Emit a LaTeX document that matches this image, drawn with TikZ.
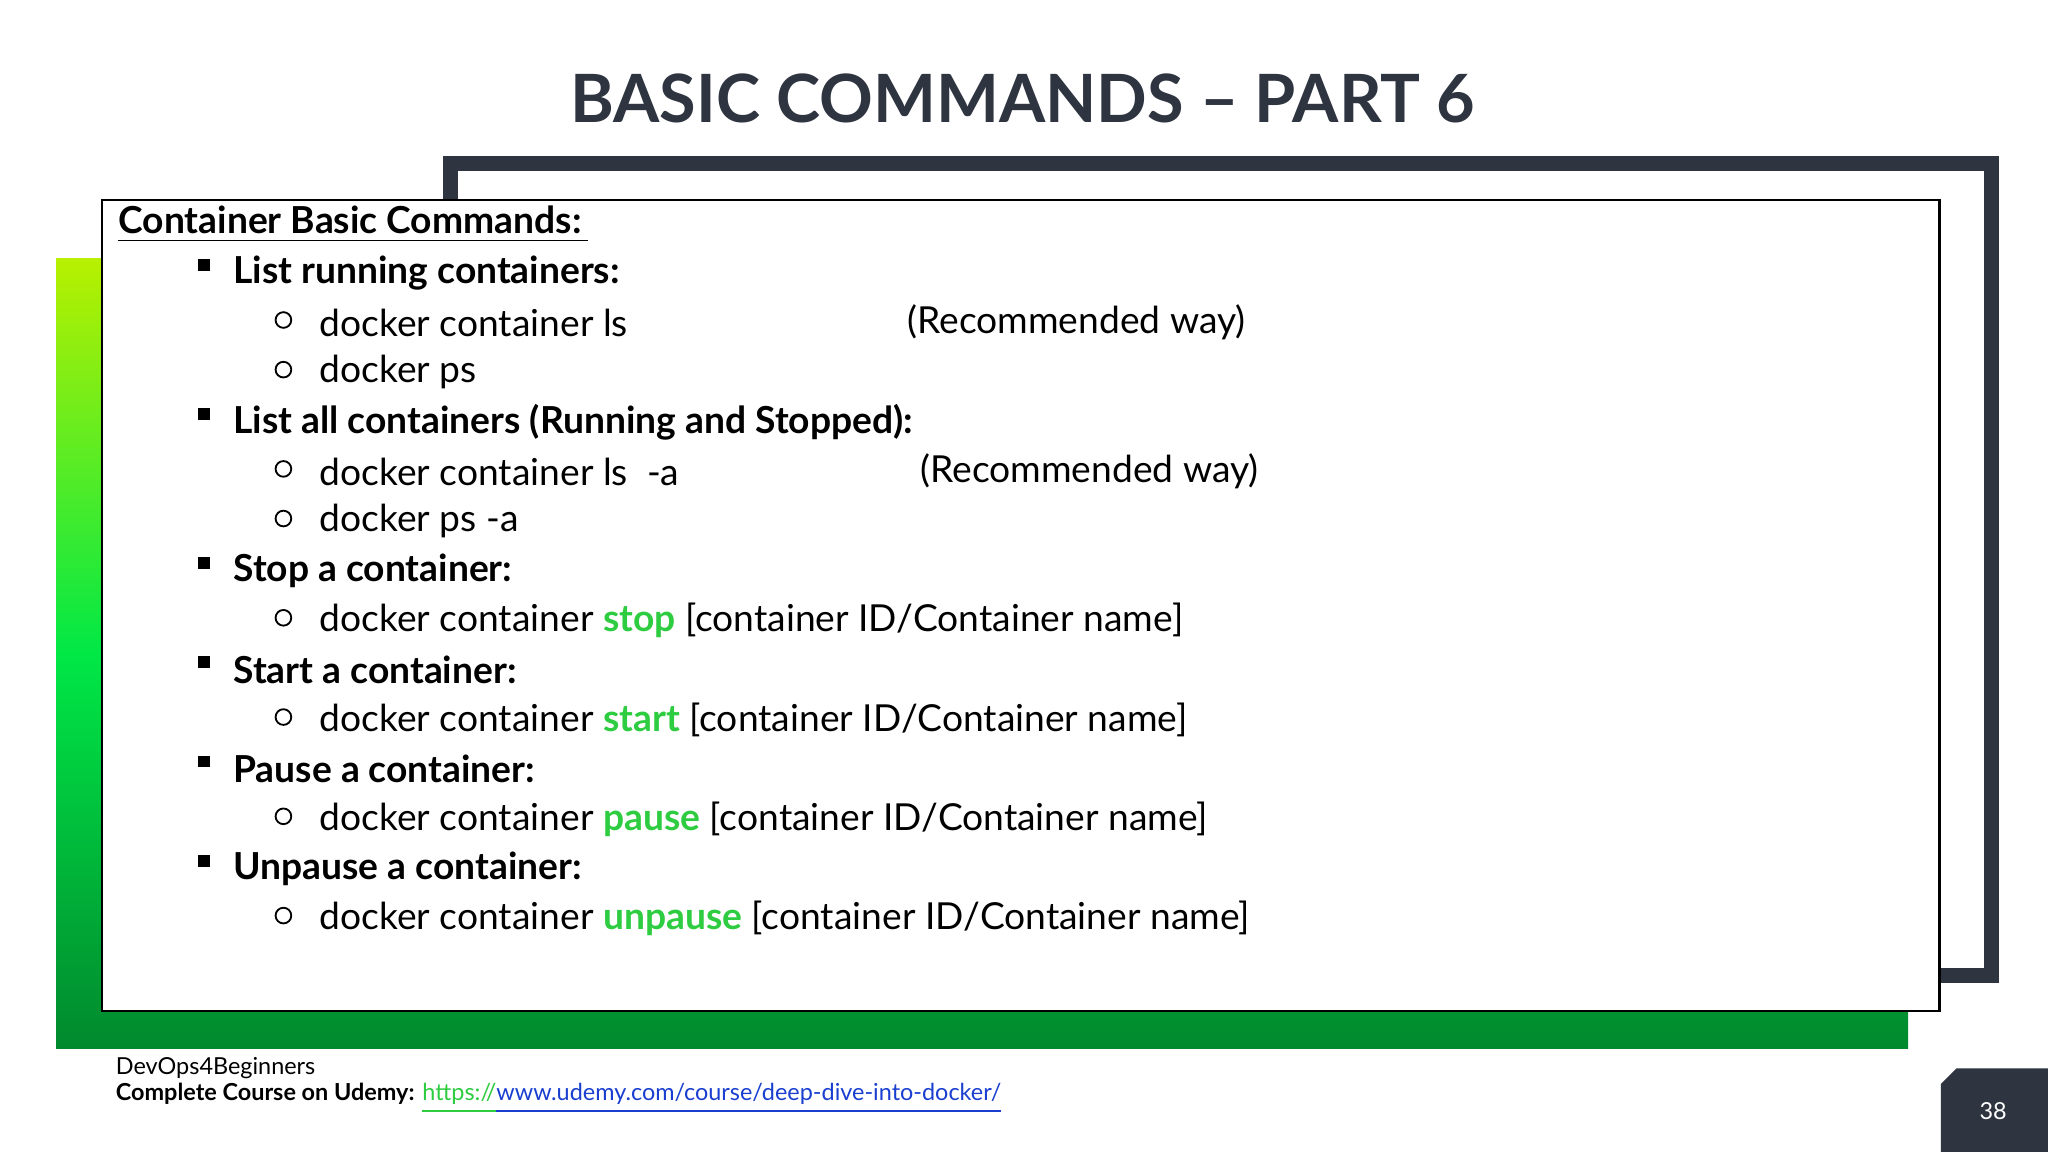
\documentclass[tikz,border=0pt]{standalone}
\usepackage{fontspec}
\setmainfont{Lato}
\usetikzlibrary{shapes.geometric}
\definecolor{dark}{HTML}{2E3440}
\definecolor{kw}{HTML}{2ECC40}
\definecolor{gtop}{HTML}{B8F000}
\definecolor{gmid}{HTML}{00E846}
\definecolor{gbot}{HTML}{00892E}
\definecolor{lnk}{HTML}{1A3FD0}
\begin{document}
\begin{tikzpicture}[x=0.01cm,y=-0.01cm,
  body/.style={anchor=west,inner sep=0pt,font=\fontsize{8.1}{10}\selectfont},
  head/.style={body,font=\fontsize{8.1}{10}\selectfont\bfseries},
  sq/.style={fill=black,minimum size=0.09cm,inner sep=0pt},
  circ/.style={circle,draw=black,line width=0.4pt,minimum size=0.12cm,inner sep=0pt}]
\useasboundingbox (0,0) rectangle (1568,882);
\fill[white] (0,0) rectangle (1568,882);
\node (title) at (783,75) {\fontsize{14.5}{17}\selectfont\bfseries\color{dark}BASIC COMMANDS – PART 6};
\draw[dark,line width=3.2pt] (345,125) rectangle (1525,747);
\shade[top color=gtop,bottom color=gbot,middle color=gmid] (43,198) rectangle (1461,803);
\draw[black,line width=0.5pt,fill=white] (78,153) rectangle (1485,774);
\node[head] (h0) at (90,172) {\underline{Container Basic Commands:\,}};
\foreach \y/\t in {209/List running containers:,323/List all containers (Running and Stopped):,437/Stop a container:,513/Start a container:,589/Pause a container:,665/Unpause a container:}{
  \node[sq] at (156,203) [yshift={(209-\y)*0.01cm}] {};
  \node[head] at (178,\y) {\t};}
\foreach \y in {247,285,361,399,475,551,627,703}{\node[circ] at (217,\y-2) {};}
\node[body] (a1) at (244,247) {docker container ls};
\node[body] (a2) at (244,285) {docker ps};
\node[body] (a3) at (244,361) {docker container ls~ -a};
\node[body] (a4) at (244,399) {docker ps -a};
\node[body] (r1) at (694,247) {(Recommended way)};
\node[body] (r2) at (704,361) {(Recommended way)};
\node[body] (c1) at (244,475) {docker container \textbf{\color{kw}stop} [container ID/Container name]};
\node[body] (c2) at (244,551) {docker container \textbf{\color{kw}start} [container ID/Container name]};
\node[body] (c3) at (244,627) {docker container \textbf{\color{kw}pause} [container ID/Container name]};
\node[body] (c4) at (244,703) {docker container \textbf{\color{kw}unpause} [container ID/Container name]};
\node[body,font=\fontsize{5.1}{7}\selectfont] (f1) at (88,818) {DevOps4Beginners};
\node[body,font=\fontsize{5.1}{7}\selectfont] (f2) at (88,841) {\textbf{Complete Course on Udemy:} {\color{kw}\underline{https://}}{\color{lnk}\underline{www.udemy.com/course/deep-dive-into-docker/}}};
\fill[dark] (1498,818) -- (1568,818) -- (1568,882) -- (1486,882) -- (1486,830) -- cycle;
\node[text=white,font=\fontsize{5.1}{7}\selectfont] (pg) at (1526,851) {38};
\end{tikzpicture}
\end{document}
